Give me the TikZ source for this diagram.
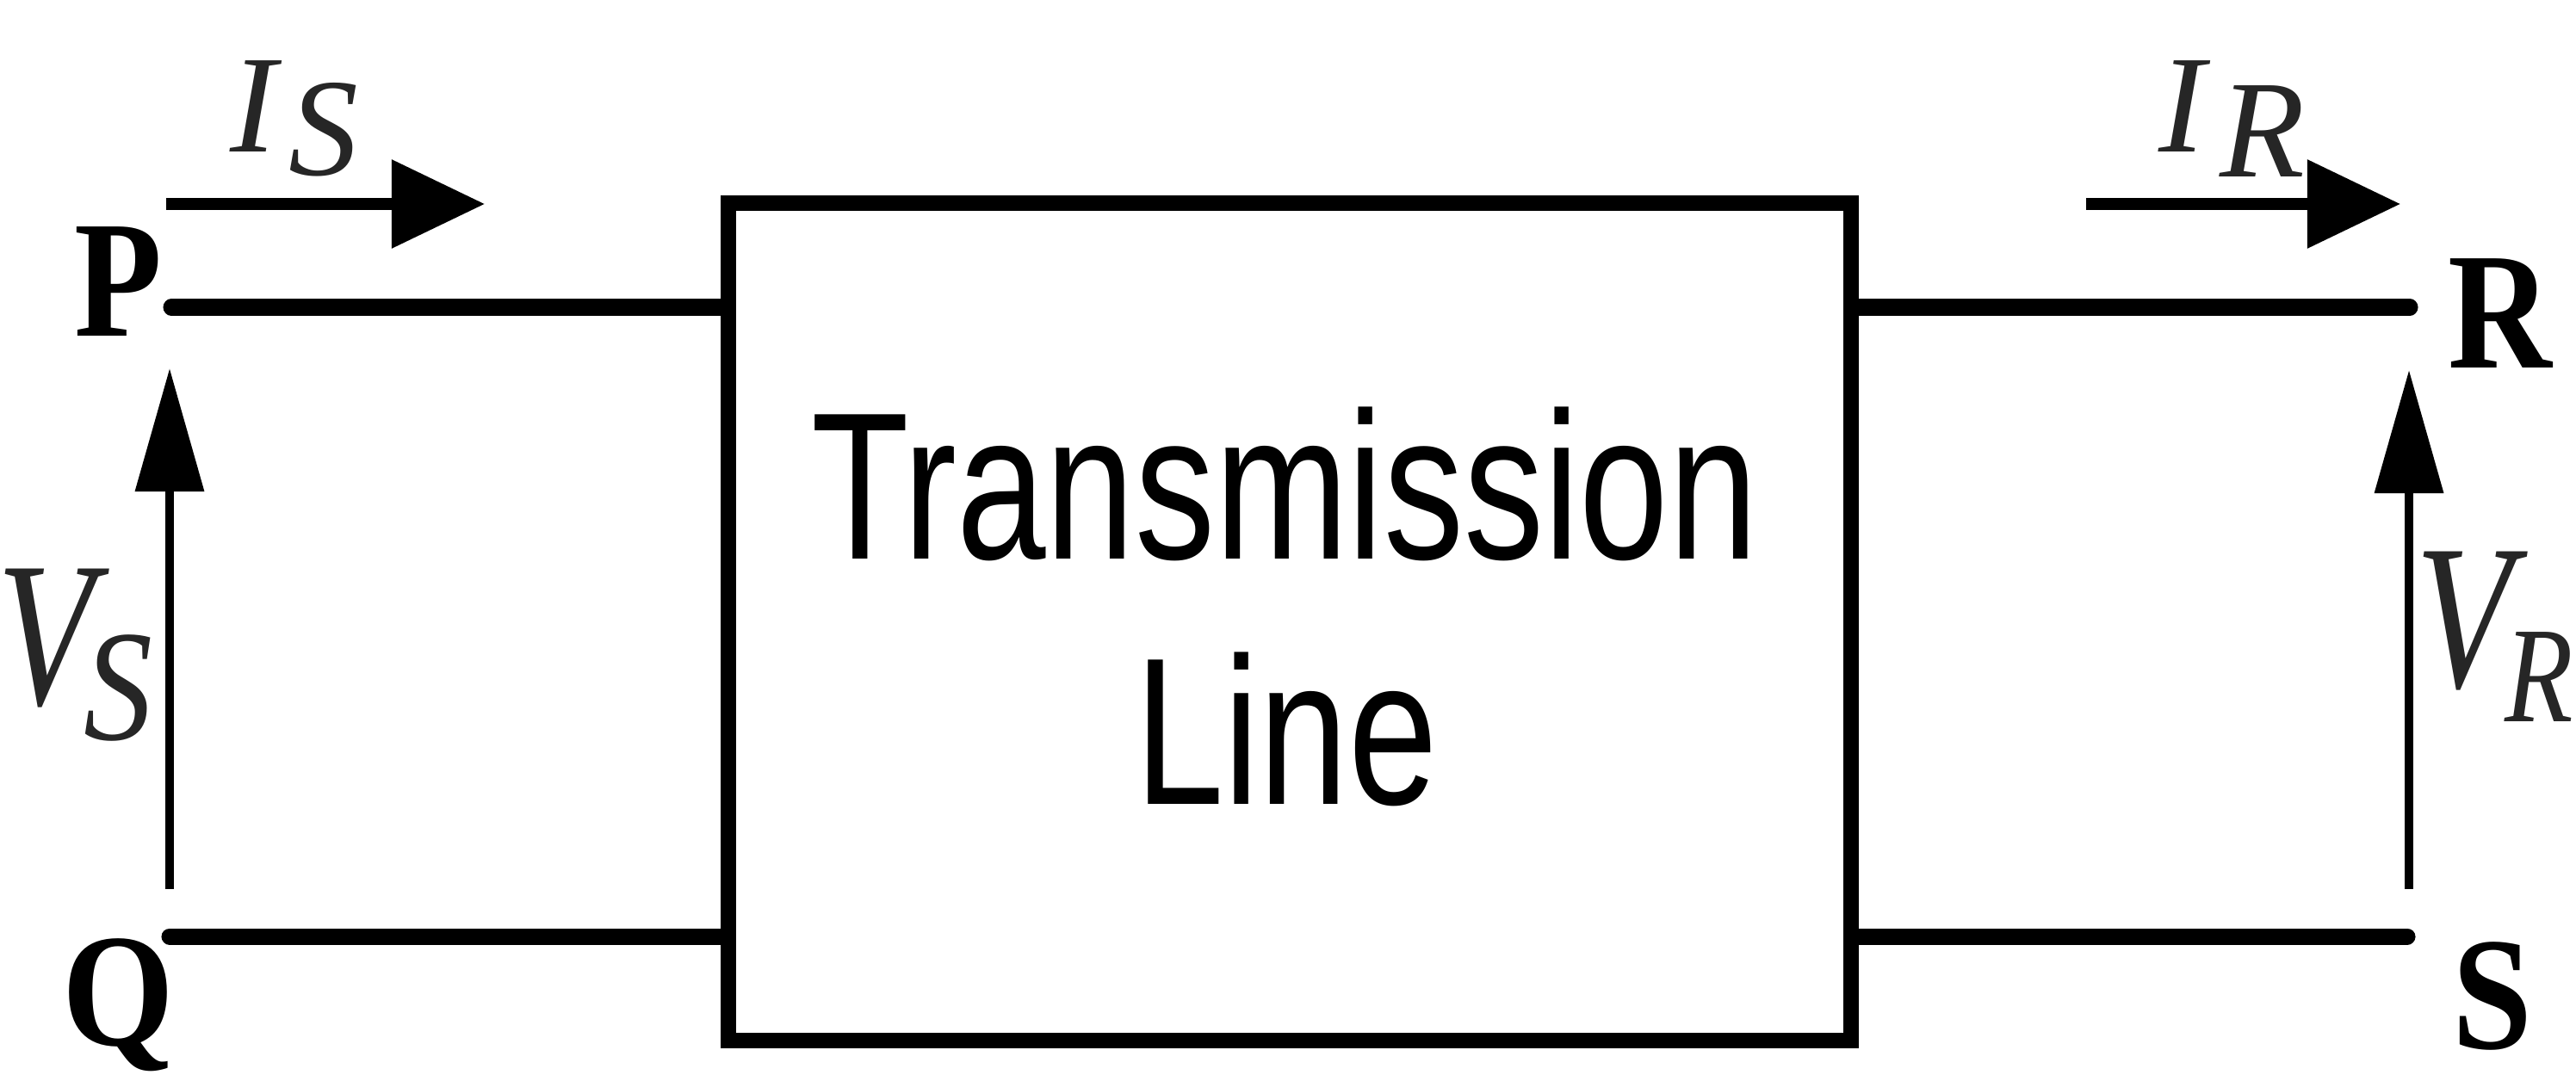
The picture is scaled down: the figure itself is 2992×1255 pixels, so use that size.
\documentclass[tikz,border=0pt]{standalone}
\usepackage{fontspec}
\setmainfont{Liberation Serif}
\newfontfamily\arialf{Liberation Sans}
\usetikzlibrary{arrows.meta}
\begin{document}
\begin{tikzpicture}[x=0.01cm, y=-0.01cm,
  wire/.style={line width=0.19cm, line cap=round},
  boxst/.style={draw, line width=0.18cm, minimum width=13.04cm, minimum height=9.73cm, inner sep=0pt},
  iarrow/.style={line width=0.13cm, -{Triangle[length=1.08cm, width=1.0cm]}},
  varrow/.style={line width=0.10cm, -{Triangle[length=1.43cm, width=0.78cm]}},
  term/.style={inner sep=0pt, anchor=base west, font=\fontsize{47.5pt}{50pt}\selectfont\bfseries},
  lbl/.style={inner sep=0pt, anchor=base west, text=black!85},
  tltext/.style={inner sep=0pt, anchor=base, font=\arialf\fontsize{52.9pt}{60pt}\selectfont}]
\useasboundingbox (0,0) rectangle (2992,1255);
% block
\node[boxst] (tl) at (1498,722.5) {};
\node[tltext] (tl1) at (1492,649) {\scalebox{1}[1.31]{Transmission}};
\node[tltext] (tl2) at (1494,934) {\scalebox{1}[1.31]{Line}};
% terminals
\coordinate (pT) at (199,357);
\coordinate (qT) at (197,1088);
\coordinate (rT) at (2799,357);
\coordinate (sT) at (2796,1088);
\draw[wire] (pT) -- (pT -| tl.west);
\draw[wire] (qT) -- (qT -| tl.west);
\draw[wire] (tl.east |- rT) -- (rT);
\draw[wire] (tl.east |- sT) -- (sT);
% current arrows
\coordinate (is0) at (193,237);
\coordinate (is1) at (563,237);
\coordinate (ir0) at (2423,237);
\coordinate (ir1) at (2788,237);
\draw[iarrow] (is0) -- (is1);
\draw[iarrow] (ir0) -- (ir1);
% voltage arrows
\coordinate (vs0) at (197,1033);
\coordinate (vs1) at (197,428);
\coordinate (vr0) at (2798,1033);
\coordinate (vr1) at (2798,430);
\draw[varrow] (vs0) -- (vs1);
\draw[varrow] (vr0) -- (vr1);
% terminal letters
\node[term] (P) at (86,390) {\scalebox{1}[1.16]{P}};
\node[term] (Q) at (72,1214) {\scalebox{1}[1.12]{Q}};
\node[term] (R) at (2843,427) {\scalebox{1}[1.16]{R}};
\node[term] (S) at (2848,1218) {\scalebox{1}[1.12]{S}};
% labels
\node[lbl] (IS) at (267,177) {\fontsize{46pt}{46pt}\selectfont\itshape I\hspace{0.14cm}\raisebox{-0.26cm}{S}};
\node[lbl] (IR) at (2507,177) {\fontsize{46pt}{46pt}\selectfont\itshape I\hspace{0.17cm}\raisebox{-0.28cm}{R}};
\node[lbl] (VS) at (-4,818) {\itshape\fontsize{52.6pt}{55pt}\selectfont\scalebox{1}[1.3]{V}\hspace{-0.12cm}\raisebox{-0.41cm}{\fontsize{45.5pt}{50pt}\selectfont\scalebox{1}[1.15]{S}}};
\node[lbl] (VR) at (2805,798) {\itshape\fontsize{52.6pt}{55pt}\selectfont\scalebox{1}[1.3]{V}\hspace{-0.09cm}\raisebox{-0.40cm}{\fontsize{37pt}{40pt}\selectfont\scalebox{1}[1.22]{R}}};
\end{tikzpicture}
\end{document}
